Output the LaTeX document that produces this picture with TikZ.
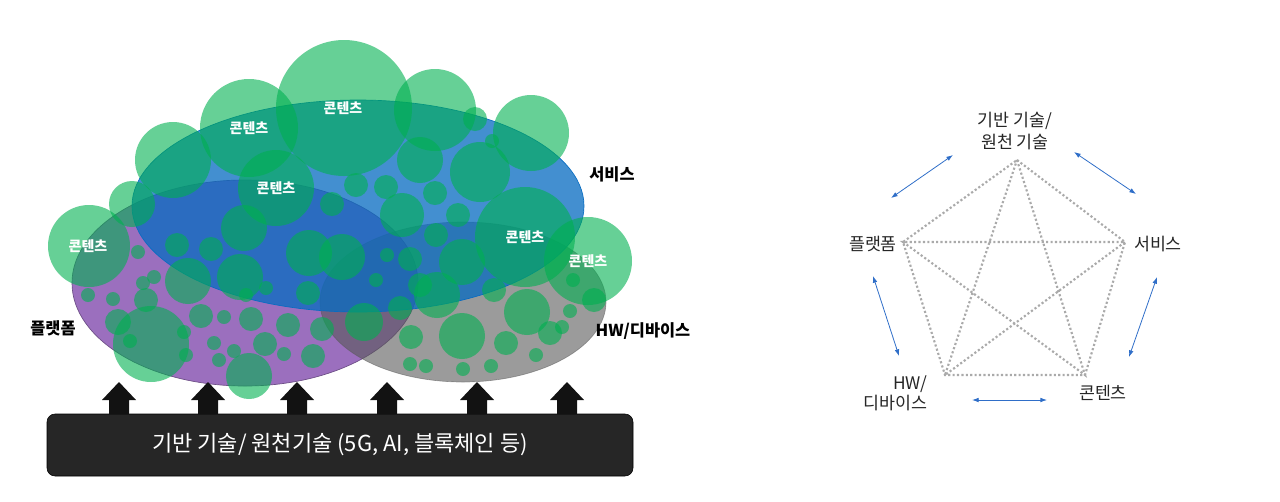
\documentclass[tikz,border=0pt]{standalone}
\usepackage{fontspec}
\setmainfont{Noto Sans CJK KR}
\usetikzlibrary{arrows.meta}
\definecolor{cgreen}{RGB}{0,176,80}
\definecolor{cblue}{RGB}{8,108,193}
\definecolor{cpurple}{RGB}{155,111,190}
\definecolor{cgray}{RGB}{88,88,88}
\definecolor{cbar}{RGB}{38,38,38}
\definecolor{cdot}{RGB}{170,170,170}
\definecolor{carrow}{RGB}{47,110,200}
\definecolor{ctext}{RGB}{38,38,38}

\begin{document}
\begin{tikzpicture}[x=0.75pt,y=-0.75pt,
    bubble/.style={fill=cgreen,fill opacity=0.6},
    cnt/.style={text=white,font=\bfseries\fontsize{10.5}{12}\selectfont},
    side/.style={font=\bfseries\fontsize{12.3}{14}\selectfont},
    lbl/.style={text=ctext,font=\fontsize{13}{16.5}\selectfont},
    star/.style={draw=cdot,line width=1.6pt,dash pattern=on 1.6pt off 1.7pt},
    link/.style={draw=carrow,line width=0.6pt,{Latex[length=5pt,width=3.5pt]}-{Latex[length=5pt,width=3.5pt]}}]
        \useasboundingbox (0,0) rectangle (1280,501);
        % layers: platform, hw, service
        \fill[cpurple,draw=cpurple!70!black,line width=0.5pt] (245,283) ellipse [x radius=173,y radius=103];
        \fill[cgray,fill opacity=0.6,draw=cgray,draw opacity=0.5,line width=0.5pt] (463,302) ellipse [x radius=143,y radius=80];
        \fill[cblue,fill opacity=0.76,draw=cblue,line width=0.5pt] (358,206) ellipse [x radius=226,y radius=106];
        % contents bubbles
        \foreach \x/\y/\r in {344/108/68,249/128/49,435/110/41,531/133/38,173/160/38,132/204/23,
            89/246/41,276/188/38,525/237/50,588/261/44,151/344/38,249/376/23,
            244/228/23,309/253/23,342/257/23,188/281/23,240/277/23,402/215/22,420/160/23,
            480/172/30,462/262/23,437/295/23,527/312/23,462/336/23,364/322/19,
            356/185/12,332/204/12,386/187/12,435/193/12,458/215/12,436/235/12,475/119/12,
            410/259/12,420/285/12,494/290/12,594/300/12,400/308/12,411/337/12,506/343/12,
            550/333/12,177/245/12,211/249/12,308/293/12,146/300/12,118/322/13,201/316/12,
            251/319/12,288/325/12,322/329/12,265/344/12,313/356/12,
            492/141/7,387/255/7,376/280/7,573/280/7,570/311/7,562/327/7,536/355/7,410/364/7,
            426/366/7,463/369/7,491/366/7,138/252/7,266/288/7,246/295/7,154/277/7,143/283/7,
            88/295/7,113/299/7,224/317/7,130/341/7,184/332/7,186/355/7,214/343/7,234/351/7,
            219/360/7,284/354/7}
            \fill[bubble] (\x,\y) circle [radius=\r];
        \node[cnt] (c1) at (343,108) {콘텐츠};
        \node[cnt] (c2) at (249,128) {콘텐츠};
        \node[cnt] (c3) at (276,188) {콘텐츠};
        \node[cnt] (c4) at (88,246) {콘텐츠};
        \node[cnt] (c5) at (525,237) {콘텐츠};
        \node[cnt] (c6) at (588,261) {콘텐츠};
        \node[side] (service) at (612,174) {서비스};
        \node[side] (platform) at (53,328) {플랫폼};
        \node[side] (device) at (643,331) {HW/디바이스};
        % base bar and arrows
        \node[fill=cbar,draw=black,rounded corners=6pt,minimum width=439.5pt,minimum height=46.5pt,
            text=white,font=\fontsize{16.5}{20}\selectfont] (base) at (340,445) {기반 기술/ 원천기술 (5G, AI, 블록체인 등)};
        \foreach \ax in {119,208,297,387,477,567}
            \fill[black!93] (\ax-10,414) -- (\ax-10,400) -- (\ax-17,400) -- (\ax,382) -- (\ax+17,400) -- (\ax+10,400) -- (\ax+10,414) -- cycle;
        % pentagon
        \coordinate (vt) at (1017,160);
        \coordinate (vr) at (1125,242);
        \coordinate (vbr) at (1085,375);
        \coordinate (vbl) at (945,375);
        \coordinate (vl) at (903,242);
        \draw[star] (vt) -- (vr) -- (vbr) -- (vbl) -- (vl) -- cycle;
        \draw[star] (vt) -- (vbr) -- (vl) -- (vr) -- (vbl) -- cycle;
        \node[lbl,align=center] (tech) at (1015,131) {기반 기술/\\원천 기술};
        \node[lbl] (srv) at (1158,244) {서비스};
        \node[lbl] (plt) at (873,244) {플랫폼};
        \node[lbl] (cnt) at (1103,393) {콘텐츠};
        \node[lbl,align=right,anchor=east,font=\fontsize{13}{15}\selectfont] (hw) at (932,393) {HW/\\디바이스};
        % relations
        \coordinate (a1) at (953,155);
        \coordinate (b1) at (891,198);
        \coordinate (a2) at (1074,152);
        \coordinate (b2) at (1136,194);
        \coordinate (a3) at (873,276);
        \coordinate (b3) at (899,356);
        \coordinate (a4) at (1157,277);
        \coordinate (b4) at (1129,357);
        \coordinate (a5) at (972,400);
        \coordinate (b5) at (1047,400);
        \draw[link] (a1) -- (b1);
        \draw[link] (a2) -- (b2);
        \draw[link] (a3) -- (b3);
        \draw[link] (a4) -- (b4);
        \draw[link] (a5) -- (b5);
\end{tikzpicture}
\end{document}
